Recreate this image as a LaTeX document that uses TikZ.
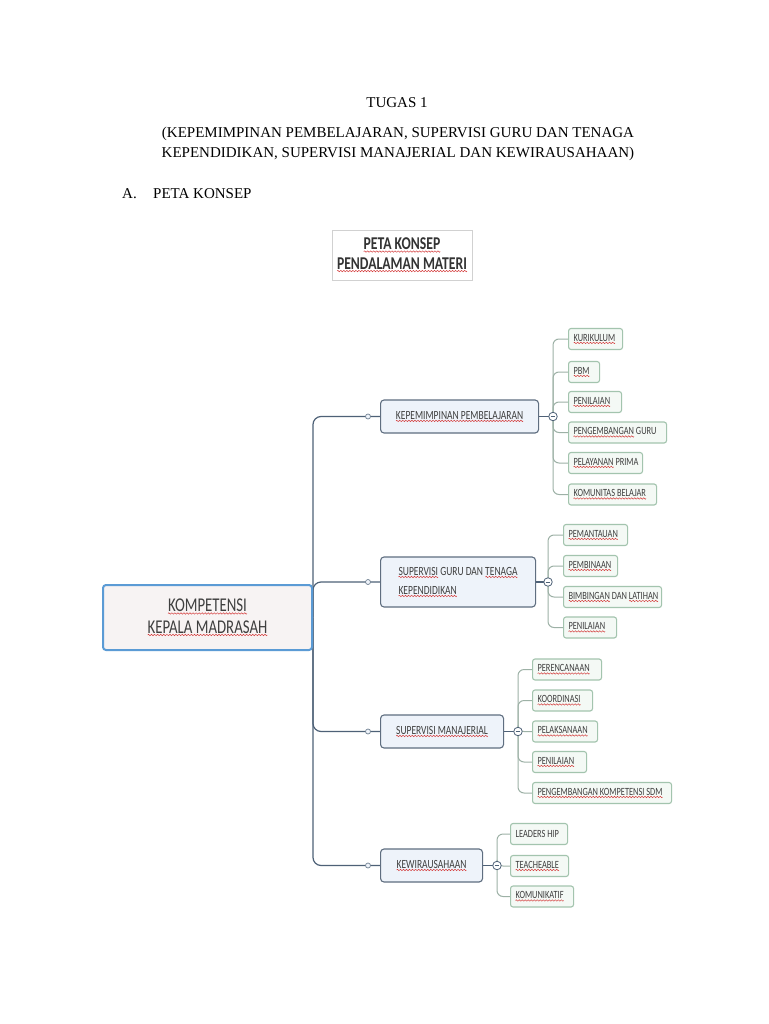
\documentclass[tikz,border=0pt]{standalone}
\usepackage{fontspec}
\setmainfont{Liberation Serif}
\newfontfamily\mmfont[FakeStretch=0.76]{Carlito}
\usetikzlibrary{backgrounds}
\definecolor{spellred}{HTML}{D43A3A}
\newsavebox\wavebox
\newcommand\sq[1]{\setbox0=\hbox{#1}\rlap{\lower2.4pt\hbox to \wd0{\xleaders\copy\wavebox\hfill}}\box0\relax}
\definecolor{trunkc}{HTML}{4E6177}
\definecolor{brfill}{HTML}{EEF3FA}
\definecolor{brdraw}{HTML}{5F6E80}
\definecolor{kidfill}{HTML}{F4F9F5}
\definecolor{kiddraw}{HTML}{A3C4AE}
\definecolor{kidline}{HTML}{9DB1A6}
\definecolor{txt}{HTML}{3F3F3F}
\definecolor{mainblue}{HTML}{5B9BD5}
\definecolor{mainfill}{HTML}{F7F3F3}
\begin{document}
\sbox\wavebox{\begin{pgfpicture}%
  \pgfsetlinewidth{0.5pt}%
  \pgfsetstrokecolor{spellred}%
  \pgfpathmoveto{\pgfpointorigin}%
  \pgfpathsine{\pgfpoint{0.75pt}{0.7pt}}%
  \pgfpathcosine{\pgfpoint{0.75pt}{-0.7pt}}%
  \pgfpathsine{\pgfpoint{0.75pt}{-0.7pt}}%
  \pgfpathcosine{\pgfpoint{0.75pt}{0.7pt}}%
  \pgfusepath{stroke}%
  \pgfresetboundingbox
  \pgfpathrectangle{\pgfpoint{0pt}{-0.8pt}}{\pgfpoint{3pt}{1.6pt}}%
  \pgfusepath{use as bounding box}%
\end{pgfpicture}}%
\begin{tikzpicture}[x=1pt,y=-1pt,
  head/.style={anchor=base, inner sep=0pt, font=\fontsize{15}{18}\selectfont},
  kid/.style={draw=kiddraw, fill=kidfill, line width=1.1pt, rounded corners=2.5pt,
    anchor=west, minimum height=21pt, inner xsep=5pt, inner ysep=0pt,
    execute at begin node={\hbox to #1\bgroup},
    execute at end node={\hss\egroup},
    font=\mmfont\fontsize{11}{13}\selectfont, text=txt},
  br/.style={draw=brdraw, fill=brfill, line width=1.1pt, rounded corners=3.5pt,
    anchor=west, inner sep=0pt, minimum height=33pt, minimum width=#1,
    font=\mmfont\fontsize{12.5}{19}\selectfont, text=txt, align=center},
  mainbox/.style={draw=mainblue, fill=mainfill, line width=2pt, rounded corners=3pt,
    minimum width=209pt, minimum height=65pt, inner sep=0pt, align=center,
    font=\mmfont\fontsize{19.5}{21.5}\selectfont, text=txt},
  titlebox/.style={draw=black!18, fill=white, line width=0.8pt,
    minimum width=140pt, minimum height=50pt, inner sep=0pt, align=center,
    font=\mmfont\bfseries\fontsize{18}{19.5}\selectfont, text=black!80},
  collapse/.style={circle, draw=trunkc, fill=white, line width=0.8pt, inner sep=0pt,
    minimum size=8.5pt,
    path picture={\draw[trunkc, line width=0.7pt]
      ([xshift=-2.3pt]path picture bounding box.center) --
      ([xshift=2.3pt]path picture bounding box.center);}},
  dotnode/.style={circle, draw=trunkc!80, fill=brfill, line width=0.7pt, inner sep=0pt,
    minimum size=5pt},
  trunk/.style={draw=trunkc, line width=1.2pt},
  kidln/.style={draw=kidline, line width=1pt, rounded corners=6pt}
]
\useasboundingbox (0,0) rectangle (768,1024);

% heading
\node[head] (h1) at (397,108) {TUGAS 1};
\node[head] (h2) at (398,138) {(KEPEMIMPINAN PEMBELAJARAN, SUPERVISI GURU DAN TENAGA};
\node[head] (h3) at (398,158) {KEPENDIDIKAN, SUPERVISI MANAJERIAL DAN KEWIRAUSAHAAN)};
\node[head, anchor=base west] (h4a) at (122,199) {A.};
\node[head, anchor=base west] (h4b) at (153,199) {PETA KONSEP};

% title box
\node[titlebox] (title) at (402,255) {\sq{PETA KONSEP}\\\sq{PENDALAMAN MATERI}};

% main
\node[mainbox] (main) at (207.5,617.5) {\sq{KOMPETENSI}\\\sq{KEPALA MADRASAH}};

% branches
\node[br=158pt] (b1) at (380,416.5) {\sq{KEPEMIMPINAN PEMBELAJARAN}};
\node[br=155pt, minimum height=50pt, align=left] (b2) at (380,582) {\sq{SUPERVISI} GURU DAN \sq{TENAGA}\\\sq{KEPENDIDIKAN}};
\node[br=123pt] (b3) at (380,731.5) {\sq{SUPERVISI MANAJERIAL}};
\node[br=102pt] (b4) at (380,865.5) {\sq{KEWIRAUSAHAAN}};

\node[dotnode] (d1) at (368,416.5) {};
\node[dotnode] (d2) at (368,582) {};
\node[dotnode] (d3) at (368,731.5) {};
\node[dotnode] (d4) at (368,865.5) {};

\node[collapse] (c1) at (553,416.5) {};
\node[collapse] (c2) at (548,582) {};
\node[collapse] (c3) at (518,731.5) {};
\node[collapse] (c4) at (497,865.5) {};

% children of b1
\node[kid=44pt] (k11) at (568,339) {\sq{KURIKULUM}};
\node[kid=21pt] (k12) at (568,372) {\sq{PBM}};
\node[kid=43pt] (k13) at (568,402) {\sq{PENILAIAN}};
\node[kid=88pt] (k14) at (568,432.5) {\sq{PENGEMBANGAN} GURU};
\node[kid=64pt] (k15) at (568,463) {\sq{PELAYANAN} PRIMA};
\node[kid=78pt] (k16) at (568,494.5) {\sq{KOMUNITAS BELAJAR}};

% children of b2
\node[kid=54pt] (k21) at (563,535) {\sq{PEMANTAUAN}};
\node[kid=44pt] (k22) at (563,566) {\sq{PEMBINAAN}};
\node[kid=88pt] (k23) at (563,597) {\sq{BIMBINGAN} DAN \sq{LATIHAN}};
\node[kid=43pt] (k24) at (563,627.5) {\sq{PENILAIAN}};

% children of b3
\node[kid=59pt] (k31) at (532,669.5) {\sq{PERENCANAAN}};
\node[kid=50pt] (k32) at (532,700.5) {\sq{KOORDINASI}};
\node[kid=55pt] (k33) at (532,731.5) {\sq{PELAKSANAAN}};
\node[kid=44pt] (k34) at (532,762) {\sq{PENILAIAN}};
\node[kid=129pt] (k35) at (532,793) {\sq{PENGEMBANGAN KOMPETENSI SDM}};

% children of b4
\node[kid=47pt] (k41) at (510,834) {LEADERS HIP};
\node[kid=48pt] (k42) at (510,866) {\sq{TEACHEABLE}};
\node[kid=53pt] (k43) at (510,896.5) {\sq{KOMUNIKATIF}};

\begin{scope}[on background layer]
  \fill[white] (0,0) rectangle (768,1024);
  \draw[trunk, rounded corners=8pt] (main.east) |- (b1.west);
  \draw[trunk, rounded corners=8pt] (main.east) |- (b2.west);
  \draw[trunk, rounded corners=8pt] (main.east) |- (b3.west);
  \draw[trunk, rounded corners=8pt] (main.east) |- (b4.west);
  \draw[trunk] (b1.east) -- (c1.center);
  \draw[trunk] (b2.east) -- (c2.center);
  \draw[trunk] (b3.east) -- (c3.center);
  \draw[trunk] (b4.east) -- (c4.center);
  \foreach \k in {k11,k12,k13,k14,k15,k16} \draw[kidln] (c1.center) |- (\k.west);
  \foreach \k in {k21,k22,k23,k24} \draw[kidln] (c2.center) |- (\k.west);
  \foreach \k in {k31,k32,k33,k34,k35} \draw[kidln] (c3.center) |- (\k.west);
  \foreach \k in {k41,k42,k43} \draw[kidln] (c4.center) |- (\k.west);
\end{scope}
\end{tikzpicture}
\end{document}
